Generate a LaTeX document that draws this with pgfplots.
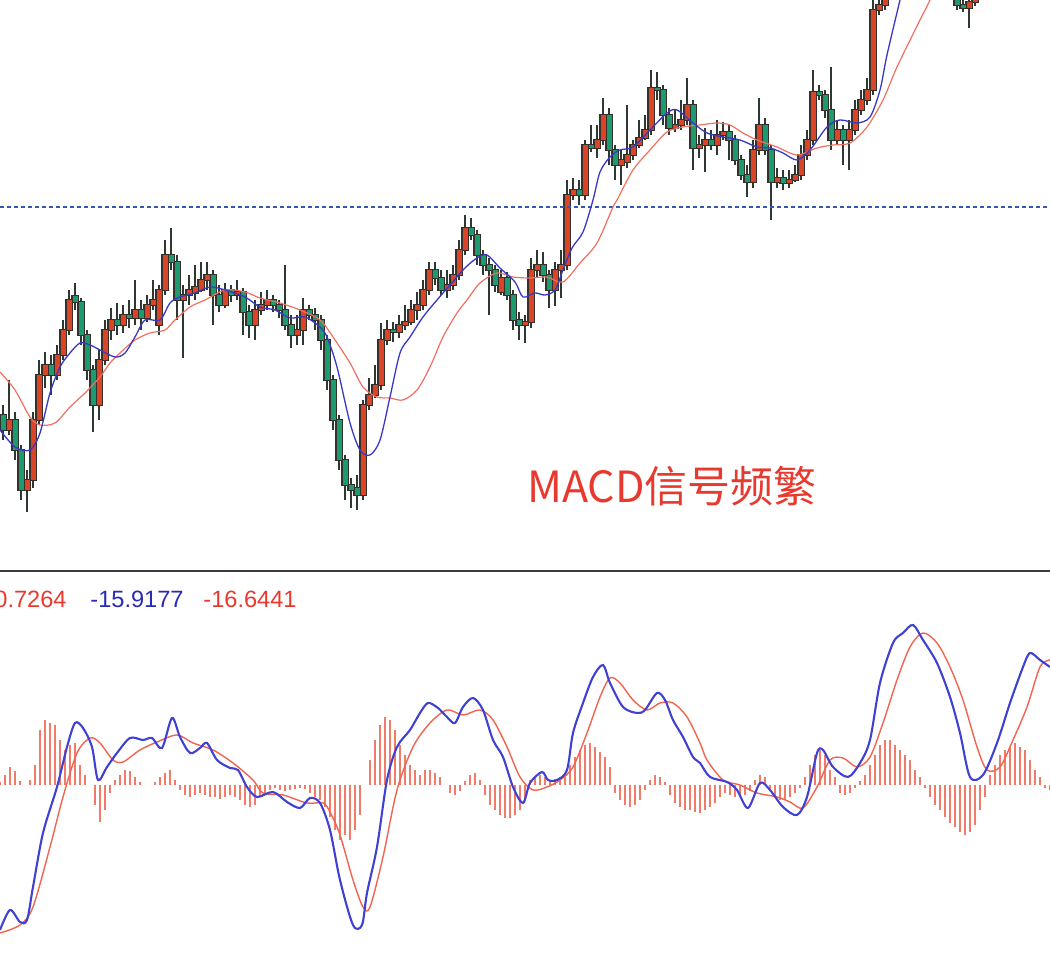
\documentclass[border=0pt]{standalone}
\usepackage{pgfplots}
\usepackage{pgfplotstable}
\usepackage{fontspec}
\pgfplotsset{compat=1.18}
\setmainfont{Liberation Sans}
\newfontfamily\cjk{Noto Sans CJK SC}
\definecolor{cred}{HTML}{DC4428}
\definecolor{cgreen}{HTML}{1C9A70}
\definecolor{cedge}{HTML}{35302A}
\definecolor{wick}{HTML}{2E3833}
\definecolor{mablue}{HTML}{3838C8}
\definecolor{mared}{HTML}{F07060}
\definecolor{dashblue}{HTML}{3558B0}
\definecolor{macdblue}{HTML}{4040D2}
\definecolor{sigred}{HTML}{F06450}
\definecolor{histred}{HTML}{EE5A44}
\definecolor{txtred}{HTML}{E8392E}
\definecolor{txtblue}{HTML}{2A2AB8}

% candles in pixel units of the screen: x o h l c
\pgfplotstableread{
x o h l c
9 430 380 435 420
27 490 470 512 480
33 480 412 488 420
39 420 360 425 375
45 375 352 388 365
57 375 345 380 355
63 355 320 360 330
69 330 290 335 300
99 405 350 420 360
105 360 320 365 330
111 330 308 340 320
123 325 305 333 315
135 318 280 325 310
147 318 295 322 305
153 305 280 310 300
159 325 285 335 290
165 290 240 295 255
183 300 285 358 295
189 295 275 305 290
195 293 265 300 287
201 290 262 292 280
207 280 262 290 275
225 305 283 308 290
237 295 280 300 292
255 325 300 340 310
261 310 292 315 305
267 305 290 310 300
297 335 315 345 330
303 330 298 345 310
363 495 400 500 405
369 405 378 410 395
375 395 365 398 385
381 385 323 390 340
387 340 320 345 330
399 332 315 338 325
405 325 305 330 322
411 322 300 325 310
417 310 292 320 305
423 305 280 310 290
429 290 262 295 270
447 290 270 298 285
453 285 265 290 275
459 275 240 280 250
465 250 215 255 228
501 292 270 295 278
525 325 315 343 322
531 322 258 328 270
537 270 250 278 265
555 290 262 306 270
561 270 250 298 265
567 265 180 270 195
573 195 178 200 190
585 195 140 200 145
597 148 125 158 140
603 140 98 145 115
621 165 150 185 160
627 162 105 168 155
633 155 140 160 145
639 145 120 148 138
645 138 115 140 130
651 130 70 135 88
675 128 110 132 125
681 125 100 130 120
687 120 78 125 105
699 148 135 158 145
705 145 128 172 140
717 145 120 155 135
723 135 122 140 132
753 182 140 188 150
759 150 98 155 125
777 182 168 188 178
789 183 170 188 180
795 180 165 182 175
801 175 145 180 155
807 155 130 160 140
813 140 70 145 92
837 140 120 145 130
849 140 120 170 130
855 130 100 135 110
861 110 90 115 100
867 100 78 105 90
873 90 -5 95 10
879 10 -5 15 5
885 5 -30 10 -20
891 -20 -50 -15 -40
903 -35 -65 -30 -55
915 -60 -85 -55 -75
927 -70 -95 -65 -80
969 8 -10 28 2
975 2 -25 6 -20
981 -20 -50 -15 -40
987 -40 -70 -35 -60
}\upc

\pgfplotstableread{
x o h l c
3 415 405 440 430
15 420 412 460 450
21 450 445 500 490
51 365 355 395 375
75 296 283 310 302
81 302 298 345 335
87 335 330 380 370
93 370 365 432 405
117 320 303 335 325
129 315 300 328 318
141 310 300 330 318
171 255 228 270 262
177 262 255 320 300
213 275 270 325 295
219 295 285 312 305
231 290 285 302 295
243 292 288 335 312
249 312 305 338 325
273 300 295 312 305
279 305 300 318 310
285 310 265 330 325
291 325 315 348 335
309 310 305 320 315
315 315 308 330 320
321 320 315 350 340
327 340 335 390 380
333 380 375 430 420
339 420 415 470 460
345 460 455 500 485
351 485 478 508 490
357 488 475 510 495
393 330 322 342 332
435 270 262 285 278
441 278 270 295 290
471 228 218 240 235
477 235 230 265 255
483 255 250 275 265
489 265 258 315 270
495 270 265 292 285
507 278 272 300 295
513 295 290 330 320
519 320 312 340 325
543 265 252 282 275
549 275 270 308 290
579 190 180 205 195
591 145 125 152 148
609 115 108 165 150
615 150 145 180 165
657 88 72 100 90
663 90 85 125 115
669 115 108 135 128
693 105 100 170 148
711 140 130 150 145
729 132 125 160 140
735 140 135 165 160
741 160 155 180 175
747 175 165 197 182
765 125 118 155 150
771 150 145 220 182
783 178 170 190 183
819 92 85 100 95
825 95 90 118 110
831 110 67 150 140
843 130 125 165 140
897 -40 -55 -25 -35
909 -55 -70 -45 -60
921 -75 -90 -60 -70
933 -80 -88 -50 -60
939 -60 -70 -35 -45
945 -45 -55 -20 -30
951 -30 -40 -8 -15
957 -15 -20 10 5
963 5 -2 12 8
}\downc

\pgfplotstableread{
x y
0 430
15 447
30 450
40 433
50 393
60 367
70 353
80 343
90 345
100 350
115 357
125 353
135 337
145 320
160 320
170 303
180 297
195 293
210 287
225 290
245 297
260 307
275 310
290 318
305 317
320 327
327 337
337 367
350 423
360 450
370 455
380 440
390 397
400 353
410 337
423 317
437 300
450 285
465 268
477 258
487 255
500 268
515 282
523 297
535 293
545 295
555 290
563 270
572 248
583 232
593 200
600 172
610 157
620 150
633 147
650 130
667 113
677 110
693 123
707 133
723 137
740 140
757 147
770 148
783 153
797 160
810 150
827 127
840 120
857 123
870 117
880 90
887 55
900 0
905 -20
}\mafast

\pgfplotstableread{
x y
0 372
15 390
30 417
40 425
55 423
70 407
85 393
100 377
110 363
120 353
135 340
150 333
165 330
175 320
190 307
205 300
225 290
245 292
260 298
280 303
300 310
320 320
333 337
350 363
363 387
377 397
390 398
403 400
417 390
430 367
443 337
457 313
467 300
480 283
497 273
513 277
530 278
547 277
563 282
580 263
597 243
613 207
617 200
633 170
650 150
667 132
683 127
700 125
717 123
730 125
743 133
757 140
777 147
797 155
817 148
833 145
850 143
867 127
883 100
897 67
920 20
930 0
935 -15
}\maslow

\pgfplotstableread{
x y
0 930
10 910
20 922
27 920
33 887
43 833
57 787
67 747
75 723
83 728
92 747
98 780
107 767
117 753
130 738
143 740
152 738
162 748
172 718
180 737
190 753
200 748
207 743
217 760
230 768
238 770
247 787
257 797
273 792
287 802
300 808
310 798
320 803
330 830
340 880
353 925
362 925
367 893
377 847
387 780
397 747
410 730
420 713
428 703
438 708
447 717
455 723
463 707
473 698
483 710
493 740
503 757
513 787
523 803
530 783
542 772
548 780
557 780
567 770
573 733
583 703
593 677
603 665
610 683
623 707
637 713
645 710
657 693
665 700
673 720
683 737
693 757
700 763
710 777
727 782
737 790
748 808
760 783
770 790
783 807
797 815
807 797
817 753
823 750
833 767
848 777
860 763
870 740
880 683
893 643
903 633
913 625
923 640
937 663
950 697
960 733
970 777
983 775
997 743
1010 703
1023 667
1030 653
1040 660
1050 667
}\macd

\pgfplotstableread{
x y
0 933
20 925
33 907
50 847
63 797
77 753
90 738
100 743
113 760
123 762
140 750
157 742
177 735
193 743
213 750
233 763
253 780
263 793
283 795
307 803
323 803
330 812
340 835
353 880
363 907
370 907
383 857
397 790
413 747
430 723
447 710
463 715
480 710
493 720
507 747
520 777
533 790
547 787
560 780
573 767
587 733
600 697
610 678
620 683
633 700
647 710
660 703
673 703
687 717
700 743
707 760
723 780
740 785
757 793
777 797
790 802
803 808
817 787
830 760
843 758
857 767
870 757
883 723
897 680
910 647
923 633
937 643
950 667
963 700
977 747
987 770
1000 767
1013 740
1027 707
1040 667
1050 660
}\signal

\pgfplotstableread{
x h
0 3
5 10
10 18
15 14
20 4
30 5
35 20
40 55
45 65
50 62
55 60
60 45
65 35
70 40
75 42
80 20
85 10
95 -20
100 -37
105 -25
110 -8
115 5
120 10
125 15
130 14
135 8
140 3
155 3
160 8
165 12
170 15
175 5
180 -5
185 -10
190 -12
195 -10
200 -8
205 -10
210 -12
215 -12
220 -14
225 -12
230 -10
235 -12
240 -15
245 -20
250 -22
255 -20
260 -12
265 -8
270 -5
275 -3
280 -5
285 -6
290 -5
295 -4
300 -3
305 -4
310 -8
315 -12
320 -15
325 -22
330 -32
335 -45
340 -55
345 -50
350 -55
355 -45
360 -30
370 25
375 45
380 60
385 68
390 65
395 55
400 40
405 30
410 20
415 15
420 10
425 15
430 15
435 12
440 8
450 -8
455 -10
460 -6
465 4
470 10
475 12
480 5
485 -10
490 -20
495 -25
500 -30
505 -33
510 -33
515 -30
520 -25
525 -15
530 5
535 8
540 10
545 8
550 5
555 6
560 8
565 12
570 20
575 28
580 35
585 40
590 42
595 38
600 33
605 28
610 18
615 -8
620 -15
625 -20
630 -22
635 -20
640 -15
645 -5
650 5
655 10
660 8
665 3
670 -10
675 -18
680 -22
685 -25
690 -25
695 -27
700 -28
705 -25
710 -22
715 -18
720 -12
725 -8
730 -10
735 -12
740 -12
745 -10
750 -6
755 5
760 10
765 8
770 -5
775 -12
780 -15
785 -15
790 -12
795 -8
800 -3
805 8
810 20
815 30
820 35
825 30
830 15
835 8
840 -8
845 -10
850 -8
855 -3
860 4
865 10
870 20
875 30
880 40
885 45
890 45
895 40
900 35
905 30
910 25
915 15
920 8
925 -3
930 -12
935 -20
940 -25
945 -32
950 -38
955 -42
960 -47
965 -50
970 -47
975 -40
980 -25
985 -12
990 10
995 20
1000 30
1005 35
1010 38
1015 42
1020 38
1025 35
1030 25
1035 15
1040 8
1045 -3
1050 -5
}\hist

\pgfplotsset{
  panel/.style={scale only axis, hide axis, width=525pt, xmin=0, xmax=1050, anchor=south west},
  wicks/.style={draw=none, mark=none, forget plot, error bars/.cd, y dir=both, y explicit, error mark=none,
     error bar style={draw=wick, line width=0.6pt}},
  edges/.style={draw=none, mark=none, forget plot, error bars/.cd, y dir=both, y explicit, error mark=none,
     error bar style={draw=cedge, line width=3.6pt}},
  bodies/.style={draw=none, mark=none, forget plot, error bars/.cd, y dir=both, y explicit, error mark=none,
     error bar style={draw=#1, line width=2.5pt}},
}

\begin{document}
\begin{tikzpicture}
% ---------- price panel ----------
\begin{axis}[panel, at={(0pt,204pt)}, height=285pt, ymin=0, ymax=570, y dir=reverse]
\addplot[wicks] table[x=x, y expr={(\thisrow{h}+\thisrow{l})/2}, y error expr={(\thisrow{l}-\thisrow{h})/2}] {\upc};
\addplot[wicks] table[x=x, y expr={(\thisrow{h}+\thisrow{l})/2}, y error expr={(\thisrow{l}-\thisrow{h})/2}] {\downc};
\addplot[edges] table[x=x, y expr={(\thisrow{o}+\thisrow{c})/2}, y error expr={abs(\thisrow{o}-\thisrow{c})/2+1.2}] {\upc};
\addplot[edges] table[x=x, y expr={(\thisrow{o}+\thisrow{c})/2}, y error expr={abs(\thisrow{o}-\thisrow{c})/2+1.2}] {\downc};
\addplot[bodies=cred] table[x=x, y expr={(\thisrow{o}+\thisrow{c})/2}, y error expr={max(abs(\thisrow{o}-\thisrow{c})/2,0.5)}] {\upc};
\addplot[bodies=cgreen] table[x=x, y expr={(\thisrow{o}+\thisrow{c})/2}, y error expr={max(abs(\thisrow{o}-\thisrow{c})/2,0.5)}] {\downc};
\addplot[dashblue, line width=0.6pt, dash pattern=on 2pt off 1.5pt] coordinates {(0,207) (1050,207)};
\addplot[mared, line width=0.6pt, smooth] table[x=x, y=y] {\maslow};
\addplot[mablue, line width=0.65pt, smooth] table[x=x, y=y] {\mafast};
\node[text=txtred, font={\cjk\fontsize{21.5}{25}\selectfont}] at (axis cs:672,486) {MACD信号频繁};
\end{axis}
% ---------- MACD panel ----------
\begin{axis}[panel, at={(0pt,0pt)}, height=203pt, ymin=-193, ymax=213]
\addplot[ycomb, histred, line width=0.75pt, opacity=0.8] table[x=x, y=h] {\hist};
\addplot[sigred, line width=0.7pt, smooth] table[x=x, y expr={785-\thisrow{y}}] {\signal};
\addplot[macdblue, line width=1.05pt, smooth] table[x=x, y expr={785-\thisrow{y}}] {\macd};
\end{axis}
\draw[color={rgb,255:red,60;green,60;blue,60}, line width=1pt] (0,203.5pt) -- (525pt,203.5pt);
\node[anchor=base west, inner sep=0pt, text=txtred, font=\fontsize{11.8}{14}\selectfont] at (-3pt,185pt) {0.7264};
\node[anchor=base west, inner sep=0pt, text=txtblue, font=\fontsize{11.8}{14}\selectfont] at (45pt,185pt) {-15.9177};
\node[anchor=base west, inner sep=0pt, text=txtred, font=\fontsize{11.8}{14}\selectfont] at (101.5pt,185pt) {-16.6441};
\pgfresetboundingbox
\path[use as bounding box] (0,0) rectangle (525pt,489pt);
\end{tikzpicture}
\end{document}
